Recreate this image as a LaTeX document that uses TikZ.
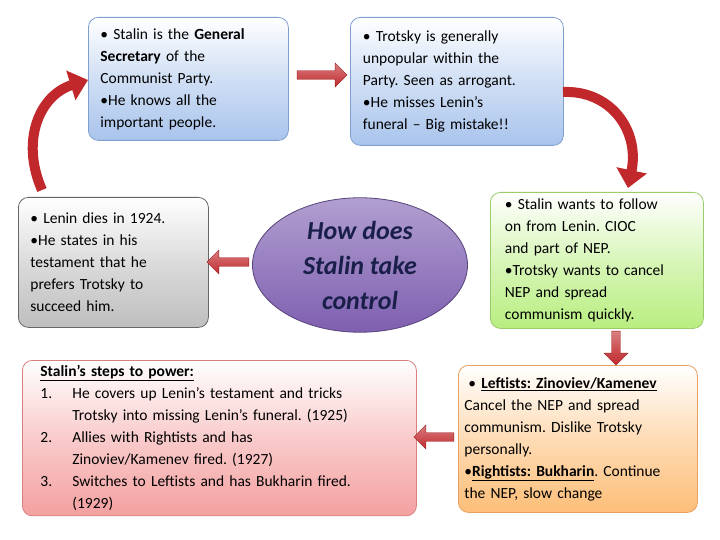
\documentclass[tikz,border=0pt]{standalone}
\usepackage{fontspec}
\setmainfont{Carlito}
\usetikzlibrary{shapes.arrows,shapes.geometric,arrows.meta}
\definecolor{bluefill}{HTML}{A9C4EC}
\definecolor{blueb}{HTML}{7F9FD0}
\definecolor{greenfill}{HTML}{B8EE80}
\definecolor{greenb}{HTML}{9BCB6A}
\definecolor{grayfill}{HTML}{BEBEBE}
\definecolor{orangefill}{HTML}{FDBE78}
\definecolor{orangeb}{HTML}{E8A060}
\definecolor{redfill}{HTML}{F4A0A0}
\definecolor{redb}{HTML}{D88080}
\definecolor{arrred}{HTML}{C0282C}
\definecolor{purp}{HTML}{7E5FB0}
\definecolor{navy}{HTML}{1A1F4A}
\tikzset{
 box/.style={rounded corners=10pt,line width=0.8pt,align=left,anchor=north west,inner sep=6pt,font=\fontsize{15.5}{22}\selectfont\frenchspacing},
 bluebox/.style={box,draw=blueb,top color=white,bottom color=bluefill,middle color=bluefill!55},
 greenbox/.style={box,draw=greenb,top color=white,bottom color=greenfill,middle color=greenfill!55},
 graybox/.style={box,draw=black!60,top color=white,bottom color=grayfill,middle color=grayfill!55},
 orangebox/.style={box,draw=orangeb,top color=white,bottom color=orangefill,middle color=orangefill!55},
 redbox/.style={box,draw=redb,top color=white,bottom color=redfill,middle color=redfill!55},
 blk/.style={single arrow,draw=arrred!80!black,top color=arrred!60,bottom color=arrred,minimum height=36pt,minimum width=24pt,single arrow head extend=4pt,inner sep=2pt},
 curv/.style={line width=10pt,draw=arrred,-{Triangle[width=30pt,length=18pt]}}
}
\newcommand{\stepnum}[1]{\makebox[44pt][l]{\hspace{12pt}#1}}
\begin{document}
\begin{tikzpicture}[x=1pt,y=-1pt]
\useasboundingbox (0,0) rectangle (720,540);
\node[bluebox,minimum width=200pt,minimum height=123pt,text width=188pt] (b1) at (88,17)
 {\hspace*{6pt}• Stalin is the \textbf{General}\\ \hspace*{6pt}\textbf{Secretary} of the\\ \hspace*{6pt}Communist Party.\\ \hspace*{6pt}•He knows all the\\ \hspace*{6pt}important people.};
\node[bluebox,minimum width=213pt,minimum height=128pt,text width=200pt] (b2) at (350,17)
 {\hspace*{6pt}• Trotsky is generally\\ \hspace*{6pt}unpopular within the\\ \hspace*{6pt}Party. Seen as arrogant.\\ \hspace*{6pt}•He misses Lenin’s\\ \hspace*{6pt}funeral -- Big mistake!!};
\node[greenbox,minimum width=213pt,minimum height=136pt,text width=200pt] (b3) at (490,192)
 {\hspace*{8pt}• Stalin wants to follow\\ \hspace*{8pt}on from Lenin. CIOC\\ \hspace*{8pt}and part of NEP.\\ \hspace*{8pt}•Trotsky wants to cancel\\ \hspace*{8pt}NEP and spread\\ \hspace*{8pt}communism quickly.};
\node[graybox,minimum width=190pt,minimum height=130pt,text width=178pt] (b4) at (18,197)
 {\hspace*{6pt}• Lenin dies in 1924.\\ \hspace*{6pt}•He states in his\\ \hspace*{6pt}testament that he\\ \hspace*{6pt}prefers Trotsky to\\ \hspace*{6pt}succeed him.};
\node[ellipse,draw=purp!70!black,line width=0.8pt,top color=purp!60,bottom color=purp,minimum width=215pt,minimum height=125pt,align=center,text=navy,font=\fontsize{26}{35}\selectfont\bfseries\itshape] (e) at (360,265)
 {How does\\Stalin take\\control};
\node[orangebox,minimum width=239pt,minimum height=147pt,text width=227pt] (b5) at (458,365)
 {\hspace*{4pt}• \underline{\textbf{Leftists: Zinoviev/Kamenev}}\\ Cancel the NEP and spread\\ communism. Dislike Trotsky\\ personally.\\ •\underline{\textbf{Rightists: Bukharin}}. Continue\\ the NEP, slow change};
\node[redbox,minimum width=394pt,minimum height=152pt,text width=382pt,inner sep=5pt] (b6) at (22,360)
 {\hspace*{12pt}\underline{\textbf{Stalin’s steps to power:}}\\
 \stepnum{1.}He covers up Lenin’s testament and tricks\\
 \hspace*{44pt}Trotsky into missing Lenin’s funeral. (1925)\\
 \stepnum{2.}Allies with Rightists and has\\
 \hspace*{44pt}Zinoviev/Kamenev fired. (1927)\\
 \stepnum{3.}Switches to Leftists and has Bukharin fired.\\
 \hspace*{44pt}(1929)};
% block arrows
\node[blk,minimum height=50pt] (a1) at (320,75) {};
\node[blk,shape border rotate=270,minimum height=34pt] (a2) at (616,346) {};
\node[blk,shape border rotate=180,minimum height=40pt] (a3) at (436,437) {};
\node[blk,shape border rotate=180,minimum height=42pt] (a4) at (230,262) {};
% curved arrows
\coordinate (c1s) at (42,190);
\coordinate (c1e) at (88,80);
\draw[curv] (c1s) .. controls (20,140) and (40,95) .. (c1e);
\coordinate (c2s) at (563,92);
\coordinate (c2e) at (628,188);
\draw[curv] (c2s) .. controls (610,90) and (640,130) .. (c2e);
\end{tikzpicture}
\end{document}
